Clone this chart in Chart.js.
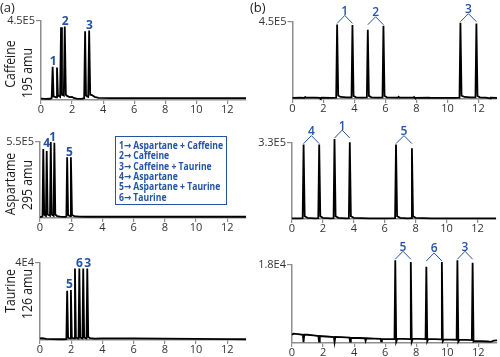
<!DOCTYPE html>
<html><head><meta charset="utf-8">
<script src="https://cdn.jsdelivr.net/npm/chart.js@4/dist/chart.umd.min.js"></script>
<style>
html,body{margin:0;padding:0;background:#fff;width:500px;height:357px;overflow:hidden}
canvas{position:absolute;left:0;top:0}
</style></head><body>
<div id="wrap"></div>
<script>
// ---------- DATA ----------
const xTicks=[0,2,4,6,8,10,12];
const yMaxA=[450000,550000,40000];
const yMaxB=[450000,330000,18000];
const yLabelsA=['4.5E5','5.5E5','4E4'];
const yLabelsB=['4.5E5','3.3E5','1.8E4'];
const rowTitles=[['Caffeine','195 amu'],['Aspartame','295 amu'],['Taurine','126 amu']];
const legendItems=['1\u2192 Aspartane + Caffeine','2\u2192 Caffeine','3\u2192 Caffeine + Taurine','4\u2192 Aspartane','5\u2192 Aspartane + Taurine','6\u2192 Taurine'];

// (a) Caffeine 195 amu  [time(min), intensity]
const caffeineA=[[0,8000],[0.3,6000],[0.6,7000],[0.69,12000],[0.75,189000],[0.81,20000],[0.9,18000],[0.97,15000],[1.03,185000],[1.09,25000],[1.17,22000],[1.23,18000],[1.29,414000],[1.35,30000],[1.42,28000],[1.47,25000],[1.53,419000],[1.6,30000],[1.7,22000],[1.85,16000],[2.0,18000],[2.1,12000],[2.3,8000],[2.6,6000],[2.78,10000],[2.84,392000],[2.9,25000],[2.98,20000],[3.04,18000],[3.1,396000],[3.17,30000],[3.28,28000],[3.45,18000],[3.7,12000],[4.5,11000],[6,11000],[8,11000],[10,11000],[12,11000],[13.2,11000]];
// (b) Caffeine 195 amu
const caffeineB=[[0,7000],[0.5,8000],[0.78,7000],[0.82,12000],[0.88,8000],[1.5,8000],[1.78,7000],[1.82,3000],[1.88,8000],[2.5,7000],[2.82,8000],[2.88,436000],[2.95,20000],[3.1,12000],[3.5,9000],[3.81,9000],[3.87,432000],[3.94,18000],[4.1,10000],[4.5,8000],[4.8,9000],[4.86,405000],[4.93,18000],[5.1,10000],[5.5,8000],[5.81,9000],[5.87,428000],[5.94,18000],[6.1,10000],[6.8,8000],[6.85,13000],[6.9,8000],[7.8,8000],[7.85,12000],[7.9,7000],[8.8,8000],[8.9,6000],[9.9,6000],[10.5,7000],[10.78,8000],[10.84,446000],[10.91,20000],[11.1,12000],[11.5,9000],[11.81,9000],[11.87,441000],[11.94,18000],[12.1,10000],[12.5,8000],[12.75,4000],[12.8,8000],[13.2,6000]];
// (a) Aspartame 295 amu
const aspartameA=[[0,8000],[0.1,8000],[0.16,12000],[0.21,500000],[0.27,25000],[0.33,18000],[0.38,15000],[0.43,484000],[0.49,25000],[0.58,20000],[0.64,16000],[0.69,550000],[0.75,25000],[0.82,20000],[0.87,16000],[0.92,545000],[0.98,25000],[1.1,14000],[1.3,10000],[1.6,8000],[1.69,10000],[1.74,440000],[1.8,22000],[1.87,16000],[1.93,14000],[1.98,440000],[2.05,22000],[2.2,14000],[2.5,10000],[3,9000],[5,9000],[8,9000],[11,9000],[13.2,9000]];
// (b) Aspartame 295 amu
const aspartameB=[[0,3000],[0.5,3000],[0.69,4000],[0.75,323000],[0.82,12000],[1.0,5000],[1.5,3000],[1.7,4000],[1.76,323000],[1.83,12000],[2.0,5000],[2.5,3000],[2.69,4000],[2.75,347000],[2.82,12000],[3.0,5000],[3.5,3000],[3.68,4000],[3.74,333000],[3.81,12000],[4.0,5000],[5,3000],[6,3000],[6.67,4000],[6.73,323000],[6.8,12000],[7.0,5000],[7.5,3000],[7.7,4000],[7.76,307000],[7.83,12000],[8.0,5000],[9,3000],[11,3000],[13.2,3000]];
// (a) Taurine 126 amu
const taurineA=[[0,800],[0.15,1000],[0.4,600],[0.8,500],[1.2,400],[1.6,400],[1.69,500],[1.74,25600],[1.8,1200],[1.87,900],[1.93,800],[1.98,26000],[2.04,1200],[2.13,900],[2.19,800],[2.24,37200],[2.3,1300],[2.41,900],[2.47,800],[2.52,37200],[2.58,1300],[2.66,900],[2.72,800],[2.77,37200],[2.83,1300],[2.92,900],[2.98,800],[3.03,37200],[3.09,1600],[3.2,1000],[3.5,700],[4,800],[6,800],[8,700],[10,600],[12,500],[13.2,400]];
// (b) Taurine 126 amu
const taurineB=[[0,1900],[0.1,2150],[0.4,2050],[0.7,1900],[0.74,200],[0.79,1900],[1.0,1900],[1.4,1750],[1.7,1600],[1.74,300],[1.79,1600],[2.2,1500],[2.7,1350],[2.74,200],[2.79,1400],[3.2,1350],[3.7,1250],[3.74,300],[3.79,1200],[4.3,1150],[4.7,1100],[4.74,500],[4.79,1100],[5.3,1000],[5.7,950],[5.74,400],[5.79,900],[6.3,900],[6.6,900],[6.65,19100],[6.71,300],[6.78,950],[7.2,950],[7.6,900],[7.65,18700],[7.71,300],[7.78,1000],[8.2,950],[8.6,900],[8.65,17600],[8.71,400],[8.78,950],[9.2,900],[9.6,850],[9.65,18700],[9.71,400],[9.78,800],[10.2,800],[10.6,750],[10.65,19100],[10.71,300],[10.78,700],[11.2,700],[11.58,650],[11.63,18500],[11.69,300],[11.76,400],[12.2,400],[12.6,350],[12.8,250],[13.0,550],[13.2,600]];

// peak number labels
const peakLabelsA=[
  [{n:'1',t:0.79,v:189000},{n:'2',t:1.55,v:419000},{n:'3',t:3.12,v:396000}],
  [{n:'4',t:0.43,v:500000},{n:'1',t:0.82,v:550000},{n:'5',t:1.89,v:440000}],
  [{n:'5',t:1.89,v:26000},{n:'6',t:2.52,v:37200},{n:'3',t:3.05,v:37200}]
];
const peakGroupsB=[
  [{n:'1',t1:2.88,t2:3.87,v:436000},{n:'2',t1:4.86,t2:5.87,v:428000},{n:'3',t1:10.84,t2:11.87,v:446000}],
  [{n:'4',t1:0.75,t2:1.76,v:323000},{n:'1',t1:2.75,t2:3.74,v:347000},{n:'5',t1:6.73,t2:7.76,v:323000}],
  [{n:'5',t1:6.65,t2:7.65,v:19100},{n:'6',t1:8.65,t2:9.65,v:18700},{n:'3',t1:10.65,t2:11.63,v:19100}]
];

// ---------- LAYOUT / STYLE ----------
const W=500,H=357,XMAX=13.2,YW=38,XH=20;
const BLUE='#2553a3', AXIS='#8e8e8e', TXT='#333';
const FONT='"Open Sans", "DejaVu Sans", sans-serif';
const panels=[
  {data:caffeineA, box:{left:41,right:246,top:21,bottom:100}, max:yMaxA[0], lab:yLabelsA[0], row:0, col:0},
  {data:caffeineB, box:{left:292.5,right:497,top:22,bottom:99}, max:yMaxB[0], lab:yLabelsB[0], row:0, col:1},
  {data:aspartameA, box:{left:40,right:246,top:142,bottom:218}, max:yMaxA[1], lab:yLabelsA[1], row:1, col:0},
  {data:aspartameB, box:{left:292,right:496,top:143,bottom:219}, max:yMaxB[1], lab:yLabelsB[1], row:1, col:1},
  {data:taurineA, box:{left:40,right:246,top:263,bottom:340}, max:yMaxA[2], lab:yLabelsA[2], row:2, col:0},
  {data:taurineB, box:{left:292,right:497,top:265,bottom:343}, max:yMaxB[2], lab:yLabelsB[2], row:2, col:1}
];
const titleCenters=[[64,73],[184,185],[291,294]];

function drawExtras(chart,p){
  const ctx=chart.ctx, xs=chart.scales.x, ys=chart.scales.y, ca=chart.chartArea;
  ctx.save();
  if(p.col===0){
    // peak labels (a)
    ctx.fillStyle=BLUE; ctx.font='bold 12px '+FONT; ctx.textAlign='center'; ctx.textBaseline='alphabetic';
    peakLabelsA[p.row].forEach(l=>ctx.fillText(l.n, xs.getPixelForValue(l.t), ys.getPixelForValue(l.v)-1.5));
    // row titles
    const t=rowTitles[p.row], cy=titleCenters[p.row];
    ctx.fillStyle='#1a1a1a'; ctx.font='15px '+FONT; ctx.textAlign='center'; ctx.textBaseline='middle';
    [10.5,27.5].forEach((x,i)=>{ctx.save();ctx.translate(x,cy[i]);ctx.rotate(-Math.PI/2);ctx.scale(0.82,1);ctx.fillText(t[i],0,0);ctx.restore();});
  } else {
    ctx.strokeStyle=BLUE; ctx.fillStyle=BLUE; ctx.lineWidth=1;
    ctx.font='600 12px '+FONT; ctx.textAlign='center'; ctx.textBaseline='alphabetic';
    peakGroupsB[p.row].forEach(g=>{
      const x1=xs.getPixelForValue(g.t1), x2=xs.getPixelForValue(g.t2);
      const yl=ys.getPixelForValue(g.v)-1, ya=yl-8, xm=(x1+x2)/2;
      ctx.beginPath(); ctx.moveTo(x1,yl); ctx.lineTo(xm,ya); ctx.lineTo(x2,yl); ctx.stroke();
      ctx.fillText(g.n, xm, ya-0.5);
    });
  }
  if(p.row===0){
    ctx.fillStyle='#222'; ctx.font='13px '+FONT; ctx.textAlign='left'; ctx.textBaseline='alphabetic';
    ctx.fillText(p.col===0?'(a)':'(b)', p.col===0?0:250, 12);
  }
  if(p.row===1 && p.col===0){
    // legend box
    ctx.fillStyle='#fff'; ctx.fillRect(115.5,136.5,111,68);
    ctx.strokeStyle=BLUE; ctx.lineWidth=1; ctx.strokeRect(115.5,136.5,111,68);
    ctx.fillStyle=BLUE; ctx.font='bold 10px '+FONT; ctx.textAlign='left'; ctx.textBaseline='alphabetic';
    const f=Math.min(1,104/ctx.measureText(legendItems[0]).width);
    legendItems.forEach((s,i)=>{ctx.save();ctx.translate(119,148.8+i*10.35);ctx.scale(f,1);ctx.fillText(s,0,0);ctx.restore();});
  }
  ctx.restore();
}

const wrap=document.getElementById('wrap');
panels.forEach(p=>{
  const cv=document.createElement('canvas'); cv.width=W; cv.height=H; cv.style.width=W+'px'; cv.style.height=H+'px';
  wrap.appendChild(cv);
  const b=p.box;
  new Chart(cv,{
    type:'line',
    data:{datasets:[{data:p.data.map(d=>({x:d[0],y:d[1]})), borderColor:'#000', borderWidth:1.8, pointRadius:0, tension:0, clip:false, fill:false}]},
    options:{
      responsive:false, animation:false, devicePixelRatio:1,
      layout:{padding:{left:b.left-YW, right:W-b.right, top:b.top, bottom:H-b.bottom-XH}},
      plugins:{legend:{display:false}, tooltip:{enabled:false}},
      scales:{
        x:{type:'linear', min:0, max:XMAX,
           afterBuildTicks:s=>{s.ticks=xTicks.map(v=>({value:v}));},
           afterFit:s=>{s.height=XH;},
           grid:{drawOnChartArea:false, drawTicks:true, tickLength:4, color:AXIS, lineWidth:1.2},
           border:{display:true, color:AXIS, width:1.5},
           ticks:{color:TXT, font:{family:FONT, size:11, lineHeight:1}, padding:0, maxRotation:0, autoSkip:false}},
        y:{type:'linear', min:0, max:p.max,
           afterBuildTicks:s=>{s.ticks=[{value:p.max}];},
           afterFit:s=>{s.width=YW;},
           grid:{drawOnChartArea:false, drawTicks:true, tickLength:5, color:AXIS, lineWidth:1.2},
           border:{display:true, color:AXIS, width:1.5},
           ticks:{color:TXT, font:{family:FONT, size:11, lineHeight:1}, padding:1, callback:()=>p.lab}}
      }
    },
    plugins:[{id:'extras', afterDraw:c=>drawExtras(c,p)}]
  });
});
</script>
</body></html>
